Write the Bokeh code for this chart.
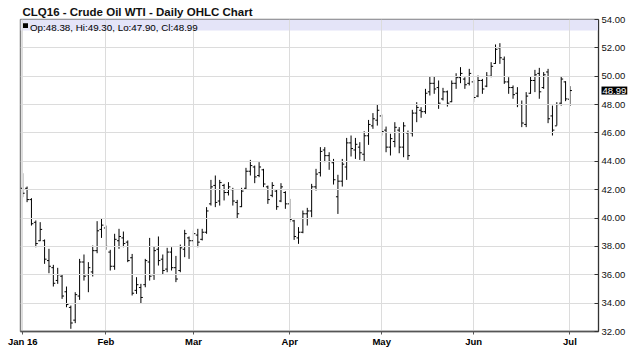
from bokeh.plotting import figure
from bokeh.models import Range1d, FixedTicker, Label, BoxAnnotation, PrintfTickFormatter
from bokeh.embed import file_html
from bokeh.resources import INLINE

# ---- data (trading-day index, Jan 4 2016 = 0) ----
highs = [43.16, 42.22, 41.40, 39.83, 39.71, 38.49, 37.83, 36.70, 36.49, 36.02,
         35.17, 33.83, 34.77, 37.12, 37.43, 36.89, 38.06, 39.78, 39.99, 39.47,
         37.76, 38.89, 39.24, 39.05, 38.42, 37.47, 35.83, 35.36, 37.12, 38.60,
         37.99, 38.70, 37.43, 37.90, 37.94, 37.33, 38.13, 39.17, 38.70, 39.12,
         39.24, 39.24, 40.77, 42.69, 43.00, 42.69, 42.41, 42.53, 42.13, 41.28,
         42.13, 43.54, 44.10, 43.70, 43.94, 43.47, 42.29, 42.53, 41.99, 42.46,
         41.89, 41.35, 39.87, 39.36, 40.53, 40.72, 42.41, 43.47, 45.00, 45.00,
         44.64, 44.17, 43.05, 44.17, 45.65, 45.82, 45.65, 45.35, 46.12, 46.92,
         47.40, 48.00, 47.30, 46.45, 45.94, 46.76, 46.41, 46.76, 46.17, 47.63,
         48.17, 47.82, 49.11, 50.00, 49.98, 49.70, 49.18, 48.99, 49.70, 50.21,
         50.64, 49.93, 50.52, 49.74, 50.05, 49.81, 50.29, 50.99, 52.24, 52.33,
         51.39, 49.93, 49.35, 49.23, 48.29, 48.88, 49.98, 50.45, 50.59, 50.29,
         50.52, 47.93, 48.17, 49.98, 49.65, 49.30]
lows = [41.47, 41.12, 39.47, 37.94, 38.37, 36.77, 36.11, 35.17, 35.36, 34.30,
        33.71, 32.19, 32.59, 34.23, 35.59, 34.77, 35.88, 37.52, 38.60, 37.76,
        36.30, 36.35, 37.83, 37.94, 36.89, 34.54, 34.65, 33.95, 35.12, 35.59,
        35.64, 36.65, 36.02, 36.18, 36.30, 35.48, 36.18, 37.24, 37.12, 38.06,
        37.94, 38.42, 38.89, 40.88, 40.77, 40.88, 41.24, 41.59, 40.88, 39.94,
        40.77, 41.99, 43.00, 42.46, 42.88, 42.18, 41.00, 41.47, 40.58, 41.12,
        40.65, 39.71, 38.46, 38.18, 38.93, 39.47, 40.06, 41.94, 42.93, 43.94,
        43.40, 42.36, 40.29, 42.22, 42.69, 44.34, 44.17, 44.10, 44.01, 45.16,
        46.29, 46.52, 45.82, 44.64, 44.41, 44.99, 44.57, 44.29, 44.10, 45.75,
        46.76, 47.07, 47.35, 48.64, 48.76, 47.70, 48.29, 47.86, 48.17, 49.11,
        49.51, 49.11, 49.35, 48.17, 48.52, 48.76, 49.23, 49.93, 50.87, 50.87,
        49.46, 48.76, 48.41, 47.82, 46.41, 46.41, 48.76, 48.88, 48.41, 49.11,
        46.69, 45.82, 46.52, 47.93, 48.24, 47.90]
opens = [42.10, 42.10, 41.30, 39.70, 38.40, 38.40, 37.00, 36.50, 35.60, 35.90,
         34.80, 33.70, 32.80, 34.50, 36.90, 36.00, 36.20, 37.70, 39.20, 39.30,
         37.60, 36.60, 38.40, 38.60, 38.30, 37.20, 34.90, 35.10, 35.30, 36.90,
         36.00, 37.80, 37.10, 36.40, 37.60, 36.50, 36.30, 37.80, 38.60, 38.40,
         38.80, 38.50, 39.00, 41.00, 42.30, 41.20, 42.30, 41.80, 42.00, 41.10,
         40.80, 42.10, 43.30, 43.60, 43.00, 43.40, 42.20, 41.60, 41.90, 41.20,
         41.80, 41.00, 39.80, 38.60, 39.00, 40.30, 40.50, 42.20, 43.20, 44.80,
         44.40, 43.90, 41.50, 42.60, 43.60, 45.30, 44.80, 45.00, 44.50, 45.80,
         46.50, 46.90, 47.20, 46.20, 45.00, 45.40, 46.20, 45.00, 46.00, 46.00,
         47.40, 47.60, 47.50, 48.90, 49.50, 49.20, 48.40, 48.90, 48.20, 49.50,
         49.90, 49.80, 49.50, 49.60, 48.60, 49.70, 49.30, 50.00, 50.90, 52.00,
         51.20, 49.60, 49.20, 48.80, 48.00, 46.60, 48.80, 49.70, 50.20, 49.20,
         50.30, 47.20, 46.50, 48.10, 49.60, 48.38]
closes = [41.75, 41.30, 39.60, 38.20, 39.20, 37.10, 36.60, 35.40, 36.00, 34.50,
          33.90, 32.60, 34.60, 36.90, 35.90, 36.50, 37.70, 39.10, 39.50, 38.00,
          36.60, 38.50, 38.70, 38.20, 37.00, 34.70, 35.30, 34.40, 37.00, 35.90,
          37.70, 37.00, 36.30, 37.60, 36.50, 35.70, 37.90, 38.90, 38.40, 38.90,
          38.30, 39.00, 40.50, 42.20, 41.10, 42.50, 41.80, 42.20, 41.20, 40.30,
          41.90, 43.30, 43.70, 42.90, 43.60, 42.40, 41.30, 42.30, 40.80, 42.20,
          41.00, 39.90, 38.70, 39.00, 40.30, 40.50, 42.20, 43.10, 44.70, 44.40,
          44.00, 42.70, 42.60, 43.80, 45.30, 44.90, 45.20, 44.60, 45.80, 46.60,
          47.00, 47.60, 46.10, 45.00, 45.60, 46.40, 45.00, 46.50, 44.40, 47.40,
          47.80, 47.50, 48.80, 49.50, 49.10, 48.10, 48.90, 48.10, 49.50, 49.90,
          50.20, 49.40, 50.20, 48.50, 49.70, 49.10, 50.00, 50.70, 51.90, 51.30,
          49.60, 49.20, 48.70, 48.00, 46.70, 48.60, 49.70, 50.10, 48.90, 50.10,
          47.00, 46.20, 48.00, 49.80, 48.40, 48.99]
idx = list(range(len(highs)))

month_ticks = [0, 19, 39, 61, 82, 103, 125]
month_labels = ["Jan 16", "Feb", "Mar", "Apr", "May", "Jun", "Jul"]
price_ticks = [32, 34, 36, 38, 40, 42, 44, 46, 48, 50, 52, 54]

title_text = "CLQ16 - Crude Oil WTI - Daily OHLC Chart"
last = len(idx) - 1
legend_text = "Op:%.2f, Hi:%.2f, Lo:%.2f, Cl:%.2f" % (opens[last], highs[last], lows[last], closes[last])

# ---- figure ----
x0, x1 = -0.50, 131.52
p = figure(width=640, height=360, output_backend="svg", toolbar_location=None,
           x_range=Range1d(x0, x1), y_range=Range1d(32, 54),
           y_axis_location="right", title=title_text,
           min_border_left=20, min_border_right=42, min_border_top=19, min_border_bottom=29)
p.background_fill_color = "white"
p.border_fill_color = "white"
p.outline_line_color = "#808080"
p.outline_line_width = 1.5

p.title.align = "left"
p.title.offset = 2
p.title.standoff = 4
p.title.text_font = "Liberation Sans"
p.title.text_font_style = "bold"
p.title.text_font_size = "11.5px"
p.title.text_color = "#111111"

# grid
for g in (p.xgrid, p.ygrid):
    g.grid_line_color = "#DCDCDC"
    g.grid_line_width = 1
    g.level = "glyph"
p.xgrid.ticker = FixedTicker(ticks=month_ticks)
p.ygrid.ticker = FixedTicker(ticks=price_ticks)

# band behind legend text
band = BoxAnnotation(bottom=53.22, fill_color="#E4E4F8", fill_alpha=1.0,
                     line_color=None, level="underlay")
p.add_layout(band)

# OHLC bars
hw = 0.45
p.segment(x0=idx, y0=lows, x1=idx, y1=highs, line_color="black", line_width=1)
p.segment(x0=[i - hw for i in idx], y0=opens, x1=idx, y1=opens, line_color="black", line_width=1)
p.segment(x0=idx, y0=closes, x1=[i + hw for i in idx], y1=closes, line_color="black", line_width=1)

# axes
xa = p.xaxis[0]
xa.ticker = FixedTicker(ticks=month_ticks)
xa.major_label_overrides = {t: l for t, l in zip(month_ticks, month_labels)}
xa.major_label_text_font = "Liberation Sans"
xa.major_label_text_font_style = "bold"
xa.major_label_text_font_size = "9.5px"
xa.major_label_text_color = "black"
xa.major_tick_in = 0
xa.major_tick_out = 3
xa.minor_tick_line_color = None
xa.major_label_standoff = 1
xa.axis_line_color = "#555555"
xa.axis_line_width = 1.5
xa.major_tick_line_color = "#555555"

ya = p.yaxis[0]
ya.ticker = FixedTicker(ticks=price_ticks)
ya.formatter = PrintfTickFormatter(format="%.2f")
ya.major_label_text_font = "Liberation Sans"
ya.major_label_text_font_size = "9.5px"
ya.major_label_text_color = "#111111"
ya.major_tick_in = 4
ya.major_tick_out = 0
ya.minor_tick_line_color = None
ya.major_label_standoff = 3
ya.axis_line_color = "#333333"
ya.axis_line_width = 1
ya.major_tick_line_color = "#333333"

px_per_x = 578.0 / (x1 - x0)
px_per_y = 312.0 / 22.0

# legend square + text
p.add_layout(BoxAnnotation(left=x0 + 2.5 / px_per_x, right=x0 + 7.5 / px_per_x,
                           top=54 - 3.7 / px_per_y, bottom=54 - 8.5 / px_per_y,
                           fill_color="black", fill_alpha=1.0, line_color=None))
p.add_layout(Label(x=x0 + 9.5 / px_per_x, y=54 - 8.3 / px_per_y, text=legend_text,
                   text_font="Liberation Sans", text_font_size="9.8px",
                   text_color="black", text_baseline="alphabetic", text_align="left"))

# last price marker on the right axis (placed in a side panel so it is not
# clipped to the frame; the bottom panel has spare room)
p.add_layout(Label(x=x1 + 3 / px_per_x, y=closes[last], text="%.2f" % closes[last],
                   text_font="Liberation Sans", text_font_size="9.5px",
                   text_color="white", background_fill_color="black",
                   text_baseline="middle", text_align="left", padding=1), "below")

open("out.html", "w").write(file_html(p, INLINE))
